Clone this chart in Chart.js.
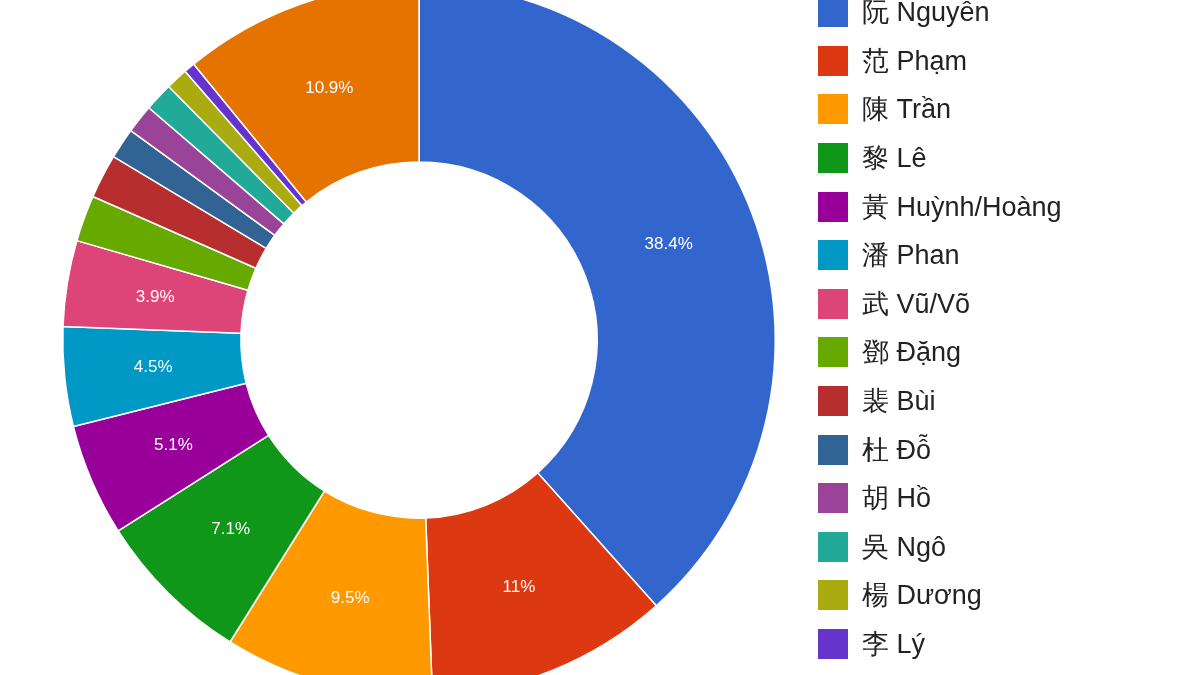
<!DOCTYPE html><html><head><meta charset="utf-8">
<script src="https://cdn.jsdelivr.net/npm/chart.js@4"></script>
<style>
html,body{margin:0;width:1200px;height:675px;overflow:hidden;background:#fff;font-family:"Liberation Sans",Arial,sans-serif}
#wrap{position:absolute;left:0;top:-20px;width:838px;height:720px}
#legend{position:absolute;left:818px;top:-12px}
.it{height:48.6px;display:flex;align-items:center;font-size:27px;color:#222}
.bx{width:30px;height:30px;margin-right:14px}
</style></head><body>
<div id="wrap"><canvas id="c" width="838" height="720"></canvas></div>
<div id="legend"></div>
<script>
const categories=["阮 Nguyễn","范 Phạm","陳 Trần","黎 Lê","黃 Huỳnh/Hoàng","潘 Phan","武 Vũ/Võ","鄧 Đặng","裴 Bùi","杜 Đỗ","胡 Hồ","吳 Ngô","楊 Dương","李 Lý","Khác"];
const values=[38.4,11,9.5,7.1,5.1,4.5,3.9,2.1,2,1.4,1.3,1.3,1,0.5,10.9];
const labels=["38.4%","11%","9.5%","7.1%","5.1%","4.5%","3.9%","","","","","","","","10.9%"];
const colors=["#3366cc","#dc3912","#ff9900","#109618","#990099","#0099c6","#dd4477","#66aa00","#b82e2e","#316395","#994499","#22aa99","#aaaa11","#6633cc","#e67300"];
const legendCount=14;
const lg=document.getElementById('legend');
categories.slice(0,legendCount).forEach((c,i)=>{const d=document.createElement('div');d.className='it';d.innerHTML='<div class="bx" style="background:'+colors[i]+'"></div>'+c;lg.appendChild(d);});
const lblPlugin={id:'lbl',afterDatasetsDraw(ch){const ctx=ch.ctx;ch.getDatasetMeta(0).data.forEach((a,i)=>{if(!labels[i])return;const m=(a.startAngle+a.endAngle)/2,r=(a.innerRadius+a.outerRadius)/2;ctx.save();ctx.fillStyle='#fff';ctx.font='17px "Liberation Sans",Arial';ctx.textAlign='center';ctx.textBaseline='middle';ctx.fillText(labels[i],a.x+Math.cos(m)*r,a.y+Math.sin(m)*r);ctx.restore();});}};
new Chart(document.getElementById('c'),{type:'doughnut',data:{labels:categories,datasets:[{data:values,backgroundColor:colors,borderColor:'#fff',borderWidth:1.5}]},
options:{responsive:false,animation:false,cutout:'50%',layout:{padding:{left:62,right:62,top:3,bottom:3}},plugins:{legend:{display:false},tooltip:{enabled:false}}},plugins:[lblPlugin]});
</script></body></html>
